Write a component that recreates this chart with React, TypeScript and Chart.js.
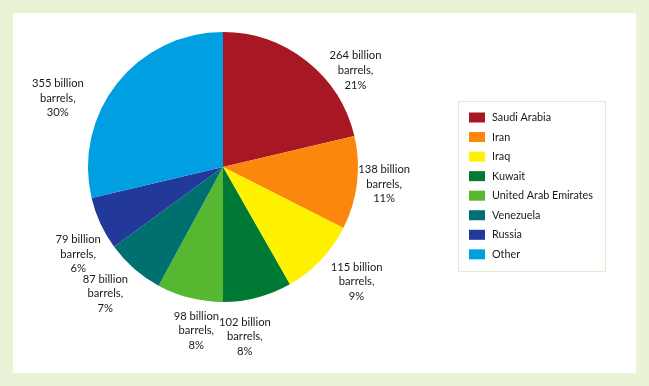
import React, { useEffect, useRef } from "react";
import { Chart, registerables } from "chart.js";

Chart.register(...registerables);

const countries = ["Saudi Arabia", "Iran", "Iraq", "Kuwait", "United Arab Emirates", "Venezuela", "Russia", "Other"];
const reserves = [264, 138, 115, 102, 98, 87, 79, 355];
const percents = [21, 11, 9, 8, 8, 7, 6, 30];
const colors = ["#a81824", "#fb880d", "#fff200", "#007934", "#56b830", "#006f70", "#23399a", "#009fe2"];

// label placement relative to slice mid-angle: [angle shift (deg), distance beyond outer radius]
const labelPlacement: [number, number][] = [
  [15.5, 29], [-0.8, 27], [-3, 41], [7.5, 36], [-5, 31], [1.7, 38], [-6.3, 34], [-15.7, 44],
];

const FONT = "Lato, 'Open Sans', sans-serif";

const labelPlugin = {
  id: "sliceLabels",
  afterDatasetsDraw(chart: any) {
    const ctx = chart.ctx;
    const meta = chart.getDatasetMeta(0);
    ctx.save();
    ctx.font = `11.2px ${FONT}`;
    ctx.fillStyle = "#1a1a1a";
    ctx.textAlign = "center";
    ctx.textBaseline = "middle";
    meta.data.forEach((arc: any, i: number) => {
      const p = arc.getProps(["x", "y", "startAngle", "endAngle", "outerRadius"], true);
      const mid = (p.startAngle + p.endAngle) / 2 + (labelPlacement[i][0] * Math.PI) / 180;
      const r = p.outerRadius + labelPlacement[i][1];
      const cx = p.x + Math.cos(mid) * r;
      const cy = p.y + Math.sin(mid) * r;
      const lines = [`${reserves[i]} billion`, "barrels,", `${percents[i]}%`];
      lines.forEach((t, k) => ctx.fillText(t, cx, cy + (k - 1) * 14.6));
    });
    ctx.restore();
  },
};

const legendPlugin = {
  id: "boxLegend",
  afterDraw(chart: any) {
    const ctx = chart.ctx;
    const x0 = 458.5, y0 = 101.5, w = 147, h = 170;
    ctx.save();
    ctx.strokeStyle = "#e3ecd3";
    ctx.lineWidth = 1;
    ctx.strokeRect(x0, y0, w, h);
    ctx.font = `10.8px ${FONT}`;
    ctx.textBaseline = "middle";
    ctx.textAlign = "left";
    const labels = chart.data.labels as string[];
    const bg = chart.data.datasets[0].backgroundColor as string[];
    labels.forEach((l, i) => {
      const yc = 117.5 + i * 19.55;
      ctx.fillStyle = bg[i];
      ctx.fillRect(469, yc - 5, 16, 10);
      ctx.fillStyle = "#1a1a1a";
      ctx.fillText(l, 492, yc);
    });
    ctx.restore();
  },
};

export default function App() {
  const ref = useRef<HTMLCanvasElement>(null);
  useEffect(() => {
    document.body.style.margin = "0";
    const chart = new Chart(ref.current!, {
      type: "pie",
      data: {
        labels: countries,
        datasets: [{ data: reserves, backgroundColor: colors, borderWidth: 0 }],
      },
      options: {
        animation: false,
        responsive: false,
        maintainAspectRatio: false,
        layout: { padding: { left: 88, right: 291, top: 32, bottom: 84 } },
        plugins: { legend: { display: false }, tooltip: { enabled: false } },
      },
      plugins: [labelPlugin, legendPlugin],
    });
    return () => chart.destroy();
  }, []);
  return (
    <div style={{ position: "relative", width: 649, height: 386, background: "#e9f3d6" }}>
      <div style={{ position: "absolute", left: 13, top: 13, width: 623, height: 360, background: "#ffffff" }} />
      <canvas ref={ref} width={649} height={386} style={{ position: "absolute", left: 0, top: 0 }} />
    </div>
  );
}
